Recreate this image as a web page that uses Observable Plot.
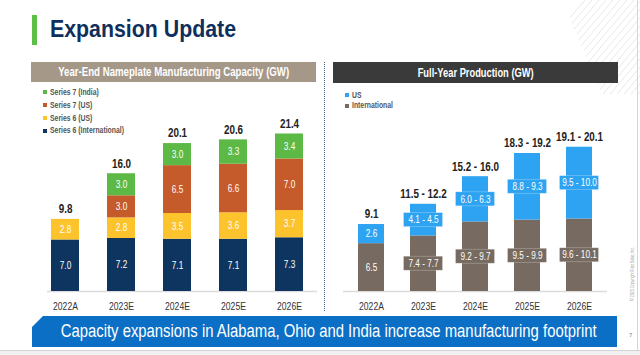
<!DOCTYPE html>
<html>
<head>
<meta charset="utf-8">
<script src="https://cdn.jsdelivr.net/npm/d3@7"></script>
<script src="https://cdn.jsdelivr.net/npm/@observablehq/plot@0.6"></script>
<style>
  html, body { margin: 0; padding: 0; background: #fff; }
  #page { position: relative; width: 640px; height: 355px; overflow: hidden; background: #fff;
          font-family: 'Liberation Sans', Arial, sans-serif; }
  .abs { position: absolute; }
  .hdr { position: absolute; height: 20px; color: #fff; font-weight: bold; font-size: 12px;
         display: flex; align-items: center; justify-content: center; }
  .fit { display: inline-block; white-space: nowrap; }
  .leg { position: absolute; font-size: 9px; font-weight: bold; color: #555; }
  .leg div { display: flex; align-items: center; white-space: nowrap; height: 100%; }
  .leg span.sw { display: inline-block; width: 4px; height: 4px; margin-right: 3px; flex: none; }
</style>
</head>
<body>
<div id="page">
  <svg class="abs" style="left:540px;top:0" width="100" height="100">
    <defs><clipPath id="cp"><polygon points="22,0 100,0 100,94 62,94"/></clipPath></defs>
    <g clip-path="url(#cp)" stroke="#d6d6d6" stroke-width="0.6" id="stripes"></g>
  </svg>
  <div class="abs" style="left:32px;top:15px;width:5px;height:30px;background:#5cbf46"></div>
  <div class="abs" style="left:50px;top:17px;font-size:24px;line-height:24px;color:#0f2f5c;font-weight:bold"><span class="fit" id="title" style="transform-origin:left center">Expansion Update</span></div>
  <div class="hdr" style="left:31px;top:62px;width:285px;background:#a59889"><span class="fit" id="hL">Year-End Nameplate Manufacturing Capacity (GW)</span></div>
  <div class="hdr" style="left:333px;top:62px;width:285px;height:21px;background:#3a3a3a"><span class="fit" id="hR">Full-Year Production (GW)</span></div>
  <div class="abs" style="left:324px;top:62px;height:249px;border-left:1px dotted #3d5f88"></div>
  <div class="abs" id="left" style="left:31px;top:83px"></div>
  <div class="abs" id="right" style="left:332px;top:83px"></div>
  <div class="leg" id="legL" style="left:43px;top:86px;line-height:12.8px"></div>
  <div class="leg" id="legR" style="left:345px;top:89.5px;line-height:10.7px"></div>
  <div class="abs" style="left:32px;top:316px;width:585px;height:31px;background:#0b6fc6;clip-path:polygon(11px 0,100% 0,100% 100%,0 100%,0 11px);color:#fff;font-size:18px;display:flex;align-items:center;justify-content:center;padding-left:9px;box-sizing:border-box;overflow:hidden"><span class="fit" id="banner">Capacity expansions in Alabama, Ohio and India increase manufacturing footprint</span></div>
  <div class="abs" style="left:632px;top:274px;width:0;height:0">
    <span class="fit" id="copy" style="position:absolute;left:0;top:0;font-size:5px;line-height:5px;color:#9a9a9a;transform-origin:0 0">© 2023 Copyright First Solar, Inc.</span>
  </div>
  <div class="abs" style="left:629px;top:332px;font-size:6px;color:#777">7</div>
  <div class="abs" style="left:637px;top:0;width:1px;height:355px;background:#d4d4d4"></div>
  <div class="abs" style="left:0;top:350px;width:640px;height:5px;background:#f0f0f0;border-top:1px solid #d4d4d4"></div>
</div>
<script>
// ---------- data ----------
const years = ["2022A", "2023E", "2024E", "2025E", "2026E"];

// Year-End Nameplate Manufacturing Capacity (GW)
const capSeries = ["Series 6 (International)", "Series 6 (US)", "Series 7 (US)", "Series 7 (India)"];
const s6Intl  = [7.0, 7.2, 7.1, 7.1, 7.3];
const s6US    = [2.8, 2.8, 3.5, 3.6, 3.7];
const s7US    = [0,   3.0, 6.5, 6.6, 7.0];
const s7India = [0,   3.0, 3.0, 3.3, 3.4];
const capTotal = [9.8, 16.0, 20.1, 20.6, 21.4];

// Full-Year Production (GW), low - high guidance
const prodSeries = ["International", "US"];
const prodIntlLow  = [6.5, 7.4, 9.2, 9.5, 9.6];
const prodIntlHigh = [6.5, 7.7, 9.7, 9.9, 10.1];
const prodUSLow    = [2.6, 4.1, 6.0, 8.8, 9.5];
const prodUSHigh   = [2.6, 4.5, 6.3, 9.3, 10.0];
const prodTotalLow  = [9.1, 11.5, 15.2, 18.3, 19.1];
const prodTotalHigh = [9.1, 12.2, 16.0, 19.2, 20.1];

// ---------- styles ----------
const FONT = "'Liberation Sans', Arial, sans-serif";
const capColors = ["#0d355f", "#fcc32c", "#c55a2b", "#5cb946"];
const prodColors = ["#776a60", "#2ea3f2"];

// ---------- tables ----------
const capValues = [s6Intl, s6US, s7US, s7India];
const capRows = [];
years.forEach((year, i) => capSeries.forEach((s, k) => capRows.push({year, series: s, value: capValues[k][i]})));

const fmt = (lo, hi) => lo === hi ? lo.toFixed(1) : `${lo.toFixed(1)} - ${hi.toFixed(1)}`;
const prodRows = [];
years.forEach((year, i) => {
  const im = (prodIntlLow[i] + prodIntlHigh[i]) / 2;
  const um = (prodUSLow[i] + prodUSHigh[i]) / 2;
  prodRows.push({year, series: "International", lo: prodIntlLow[i], hi: prodIntlHigh[i], b: 0, t: im});
  prodRows.push({year, series: "US", lo: prodUSLow[i], hi: prodUSHigh[i], b: im, t: im + um});
});
const prodTotals = years.map((year, i) => ({year, lo: prodTotalLow[i], hi: prodTotalHigh[i],
  top: prodRows[2 * i + 1].t}));

// condensed look for svg text
function condense(svg, k) {
  svg.querySelectorAll("text").forEach(t => {
    const L = t.getComputedTextLength();
    if (L > 0) { t.setAttribute("textLength", L * k); t.setAttribute("lengthAdjust", "spacingAndGlyphs"); }
  });
}

// ---------- left chart ----------
const left = Plot.plot({
  width: 287, height: 235, marginLeft: 6, marginRight: 1, marginTop: 24, marginBottom: 27,
  style: {fontFamily: FONT, fontSize: "10.5px", color: "#333", background: "transparent", overflow: "visible"},
  x: {domain: years, paddingInner: 0.5, paddingOuter: 0.25, tickSize: 0, tickPadding: 11, label: null},
  y: {domain: [0, 25], axis: null},
  color: {domain: capSeries, range: capColors},
  marks: [
    Plot.ruleY([0], {stroke: "#dcdcdc", strokeWidth: 1.5, insetLeft: 10}),
    Plot.barY(capRows, {x: "year", y: "value", fill: "series"}),
    Plot.text(capRows, Plot.stackY({x: "year", y: "value", z: "series", filter: d => d.value > 0,
      text: d => d.value.toFixed(1), fill: "white", fontSize: 10})),
    Plot.text(years, {x: d => d, y: (d, i) => capTotal[i], text: (d, i) => capTotal[i].toFixed(1),
      dy: -10, fontSize: 12, fontWeight: "bold", fill: "#222"})
  ]
});
document.getElementById("left").append(left);
condense(left, 0.82);

// ---------- right chart ----------
const right = Plot.plot({
  width: 286, height: 235, marginLeft: 11, marginRight: 11, marginTop: 24, marginBottom: 27,
  style: {fontFamily: FONT, fontSize: "10.5px", color: "#333", background: "transparent", overflow: "visible"},
  x: {domain: years, paddingInner: 0.5, paddingOuter: 0.25, tickSize: 0, tickPadding: 11, label: null},
  y: {domain: [0, 25], axis: null},
  color: {domain: prodSeries, range: prodColors},
  marks: [
    Plot.ruleY([0], {stroke: "#dcdcdc", strokeWidth: 1.5}),
    Plot.barY(prodRows, {x: "year", y1: "b", y2: "t", fill: "series"}),
    Plot.barY(prodRows.filter(d => d.lo !== d.hi), {x: "year", y1: d => (d.b + d.t) / 2, y2: d => (d.b + d.t) / 2,
      insetTop: -7, insetBottom: -7, insetLeft: -6.5, insetRight: -6.5, fill: "series",
      stroke: "#ffffff", strokeOpacity: 0.35, strokeWidth: 0.7}),
    Plot.text(prodRows, {x: "year", y: d => (d.b + d.t) / 2, text: d => fmt(d.lo, d.hi),
      fill: "white", fontSize: 10}),
    Plot.text(prodTotals, {x: "year", y: "top", text: d => fmt(d.lo, d.hi),
      dy: -10, fontSize: 12, fontWeight: "bold", fill: "#222"})
  ]
});
document.getElementById("right").append(right);
condense(right, 0.82);

// ---------- legends ----------
function buildLegend(id, series, colors, widest) {
  const box = document.getElementById(id);
  const spans = [];
  [...series].reverse().forEach(s => {
    const d = document.createElement("div");
    const sw = document.createElement("span");
    sw.className = "sw"; sw.style.background = colors[series.indexOf(s)];
    const tx = document.createElement("span");
    tx.className = "fit"; tx.textContent = s; tx.style.transformOrigin = "left center";
    d.append(sw, tx); box.append(d); spans.push(tx);
  });
  const maxW = Math.max(...spans.map(s => s.getBoundingClientRect().width));
  spans.forEach(s => s.style.transform = `scaleX(${widest / maxW})`);
}
buildLegend("legL", capSeries, capColors, 74);
buildLegend("legR", prodSeries, prodColors, 41);

// ---------- fit headline texts to the reference widths ----------
function fitX(id, target) {
  const el = document.getElementById(id);
  const w = el.getBoundingClientRect().width;
  el.style.transform = `scaleX(${target / w})` + (el.style.transform ? " " + el.style.transform : "");
}
fitX("title", 186);
fitX("hL", 231);
fitX("hR", 116);
fitX("banner", 536);
(function () {
  const el = document.getElementById("copy");
  const w = el.getBoundingClientRect().width;
  el.style.transformOrigin = "0 0";
  el.style.transform = `rotate(-90deg) scaleX(${54 / w}) translate(-50%, -50%)`;
})();

// decorative stripes
const g = document.getElementById("stripes");
for (let k = 0; k < 22; k++) {
  const x0 = -40 + k * 7;
  const l = document.createElementNS("http://www.w3.org/2000/svg", "line");
  l.setAttribute("x1", x0); l.setAttribute("y1", 100); l.setAttribute("x2", x0 + 85); l.setAttribute("y2", 0);
  g.append(l);
}
</script>
</body>
</html>
